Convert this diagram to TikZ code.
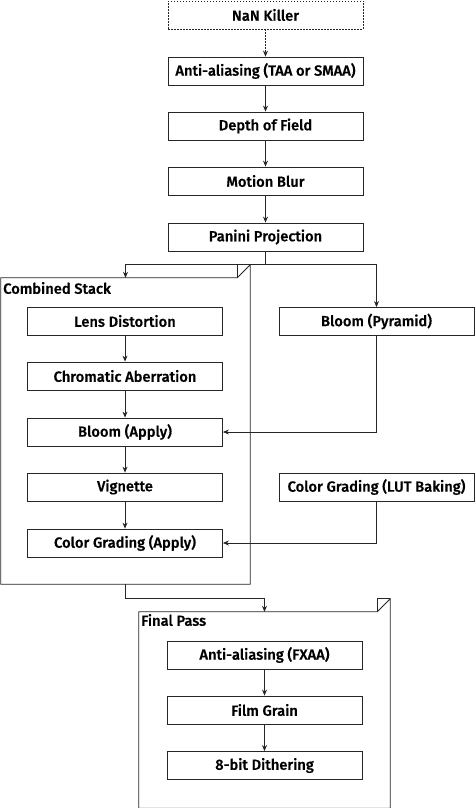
\documentclass[tikz,border=0pt]{standalone}
\usepackage{fontspec}
\setmainfont{Fira Sans}[UprightFont={* Medium},UprightFeatures={FakeBold=0.6}]
\usetikzlibrary{arrows.meta,positioning}
\begin{document}
\begin{tikzpicture}[x=1pt,y=-1pt,
  stepbox/.style={draw=black!85,line width=0.8pt,minimum width=195pt,minimum height=28pt,inner sep=0pt,font=\fontsize{14.7}{16}\selectfont,fill=white},
  dotbox/.style={stepbox,dash pattern=on 1.5pt off 1.5pt},
  arr/.style={-{Stealth[length=6pt,width=5pt]},draw=black!85,line width=0.8pt},
  cont/.style={minimum width=249pt,inner sep=0pt,draw=none},
  contline/.style={draw=black!85,line width=0.8pt},
  ctitle/.style={anchor=west,inner sep=0pt,font=\fontsize{14.7}{16}\selectfont}]
\useasboundingbox (0,0) rectangle (474,808);
\fill[white] (0,0) rectangle (474,808);
% top chain
\node[dotbox] (nan) at (265.5,15) {NaN Killer};
\node[stepbox] (taa) at (265.5,71) {Anti-aliasing (TAA or SMAA)};
\node[stepbox] (dof) at (265.5,126) {Depth of Field};
\node[stepbox] (mb) at (265.5,181) {Motion Blur};
\node[stepbox] (pp) at (265.5,237) {Panini Projection};
% containers
\node[cont,minimum height=306pt] (cs) at (125.5,431) {};
\node[cont,minimum width=251pt,minimum height=196pt] (fp) at (264.5,710) {};
\draw[contline] (cs.south west) -- (cs.north west) -- ([xshift=-13pt]cs.north east) -- ([yshift=13pt]cs.north east) -- (cs.south east) -- cycle;
\draw[contline] ([xshift=-13pt]cs.north east) -- ([xshift=-13pt,yshift=13pt]cs.north east) -- ([yshift=13pt]cs.north east);
\draw[contline] (fp.south west) -- (fp.north west) -- ([xshift=-13pt]fp.north east) -- ([yshift=13pt]fp.north east) -- (fp.south east) -- cycle;
\draw[contline] ([xshift=-13pt]fp.north east) -- ([xshift=-13pt,yshift=13pt]fp.north east) -- ([yshift=13pt]fp.north east);
\node[ctitle] (cst) at (3,288) {Combined Stack};
\node[ctitle] (fpt) at (141,620) {Final Pass};
% combined stack contents
\node[stepbox] (ld) at (125,321) {Lens Distortion};
\node[stepbox] (ca) at (125,376) {Chromatic Aberration};
\node[stepbox] (ba) at (125,432) {Bloom (Apply)};
\node[stepbox] (vg) at (125,487) {Vignette};
\node[stepbox] (cga) at (125,543) {Color Grading (Apply)};
% right column
\node[stepbox] (bp) at (376.5,321.5) {Bloom (Pyramid)};
\node[stepbox] (lut) at (376.5,487) {Color Grading (LUT Baking)};
% final pass contents
\node[stepbox] (fx) at (264.5,655) {Anti-aliasing (FXAA)};
\node[stepbox] (fg) at (264.5,710) {Film Grain};
\node[stepbox] (dit) at (264.5,765.5) {8-bit Dithering};
% connectors
\draw[arr,dash pattern=on 1.5pt off 1.5pt] (nan) -- (taa);
\draw[arr] (taa) -- (dof);
\draw[arr] (dof) -- (mb);
\draw[arr] (mb) -- (pp);
\coordinate (split) at (265.5,264);
\draw[arr] (pp.south) -- (split) -| (cs.north);
\draw[arr] (split) -| (bp.north);
\draw[arr] (ld) -- (ca);
\draw[arr] (ca) -- (ba);
\draw[arr] (ba) -- (vg);
\draw[arr] (vg) -- (cga);
\draw[arr] (bp.south) |- (ba.east);
\draw[arr] (lut.south) |- (cga.east);
\coordinate (join) at (125.5,598);
\draw[arr] (cs.south) -- (join) -| (fp.north);
\draw[arr] (fx) -- (fg);
\draw[arr] (fg) -- (dit);
\end{tikzpicture}
\end{document}
